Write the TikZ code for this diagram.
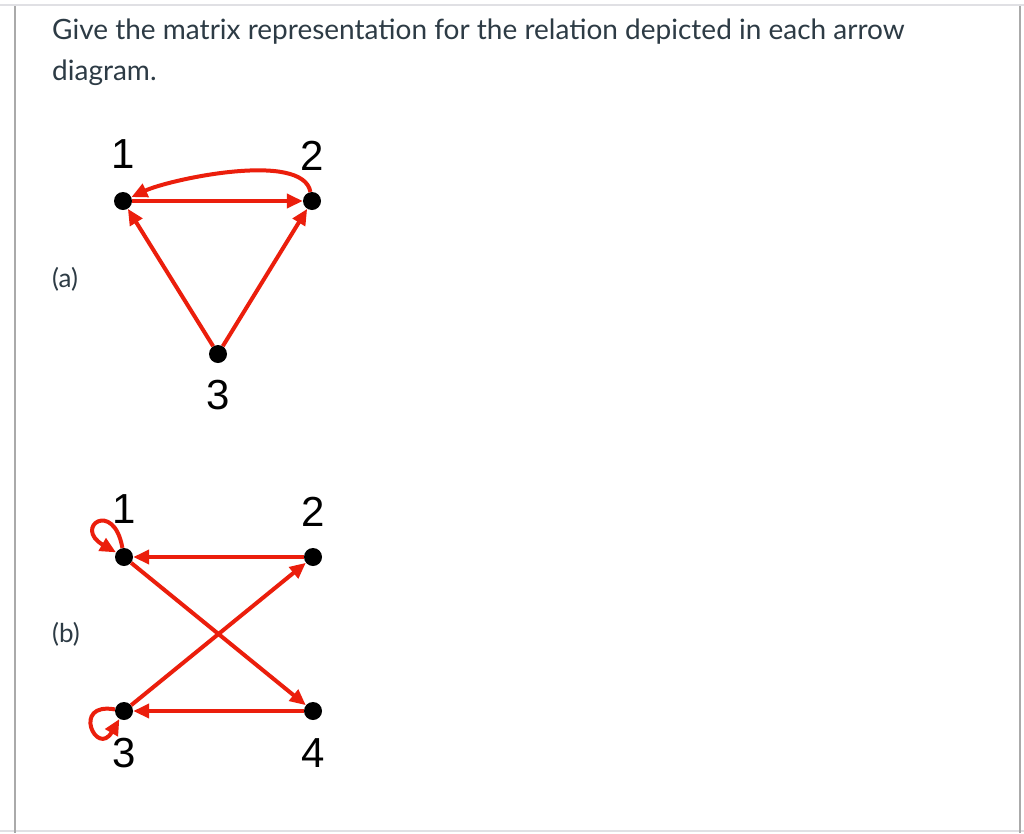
\documentclass[tikz,border=0pt]{standalone}
\usepackage{fontspec}
\setmainfont{Lato}
\newfontfamily\digitfont{Liberation Sans}
\usetikzlibrary{arrows.meta}
\definecolor{relred}{RGB}{235,30,12}
\definecolor{canvastext}{RGB}{45,59,69}
\definecolor{frameline}{RGB}{170,170,170}
\definecolor{rimline}{RGB}{224,224,228}

\begin{document}
\begin{tikzpicture}[x=1pt,y=-1pt,
    vertex/.style={circle,fill=black,minimum size=18pt,inner sep=0pt},
    vlabel/.style={anchor=base,inner sep=0pt,font=\digitfont\fontsize{42}{42}\selectfont},
    rel/.style={draw=relred,line width=4pt,-{Triangle[length=16pt,width=14pt]}},
    prose/.style={anchor=base west,inner sep=0pt,text=canvastext}]
        % page frame
        \useasboundingbox (0,0) rectangle (1024,833);
        \fill [white] (0,0) rectangle (1024,833);
        \draw [rimline,line width=2pt] (0,5) -- (1024,5);
        \draw [rimline,line width=2pt] (0,831) -- (1024,831);
        \draw [frameline,line width=2pt] (14.5,6) -- (14.5,833);
        \draw [frameline,line width=2pt] (1019.5,6) -- (1019.5,833);
        % question
        \node [prose,font=\fontsize{28}{28}\selectfont] (question) at (52,39)
            {Give the matrix representation for the relation depicted in each arrow};
        \node [prose,font=\fontsize{28}{28}\selectfont] (questiontail) at (52,80) {diagram.};
        \node [prose,font=\fontsize{26}{26}\selectfont] (parta) at (52,287) {(a)};
        \node [prose,font=\fontsize{26}{26}\selectfont] (partb) at (52,642) {(b)};
        % diagram (a)
        \node [vertex] (a1) at (123,201) {};
        \node [vertex] (a2) at (312,201) {};
        \node [vertex] (a3) at (218,354) {};
        \node [vlabel] (la1) at (123,168) {1};
        \node [vlabel] (la2) at (312,170) {2};
        \node [vlabel] (la3) at (218,409) {3};
        \draw [rel] (a1) -- (a2);
        \draw [rel] (a2) to [out=100,in=25,looseness=0.6] (a1);
        \draw [rel] (a3) -- (a1);
        \draw [rel] (a3) -- (a2);
        % diagram (b)
        \node [vertex] (b1) at (124,557) {};
        \node [vertex] (b2) at (313,557) {};
        \node [vertex] (b3) at (124,711) {};
        \node [vertex] (b4) at (313,711) {};
        \node [vlabel] (lb1) at (124,523) {1};
        \node [vlabel] (lb2) at (313,526) {2};
        \node [vlabel] (lb3) at (124,767) {3};
        \node [vlabel] (lb4) at (313,767) {4};
        \draw [rel] (b2) -- (b1);
        \draw [rel] (b4) -- (b3);
        \draw [rel] (b1) -- (b4);
        \draw [rel] (b3) -- (b2);
        \draw [rel] (b1) to [out=100,in=150,looseness=1,min distance=50pt] (b1);
        \draw [rel] (b3) to [out=170,in=240,looseness=1,min distance=45pt] (b3);
\end{tikzpicture}
\end{document}
